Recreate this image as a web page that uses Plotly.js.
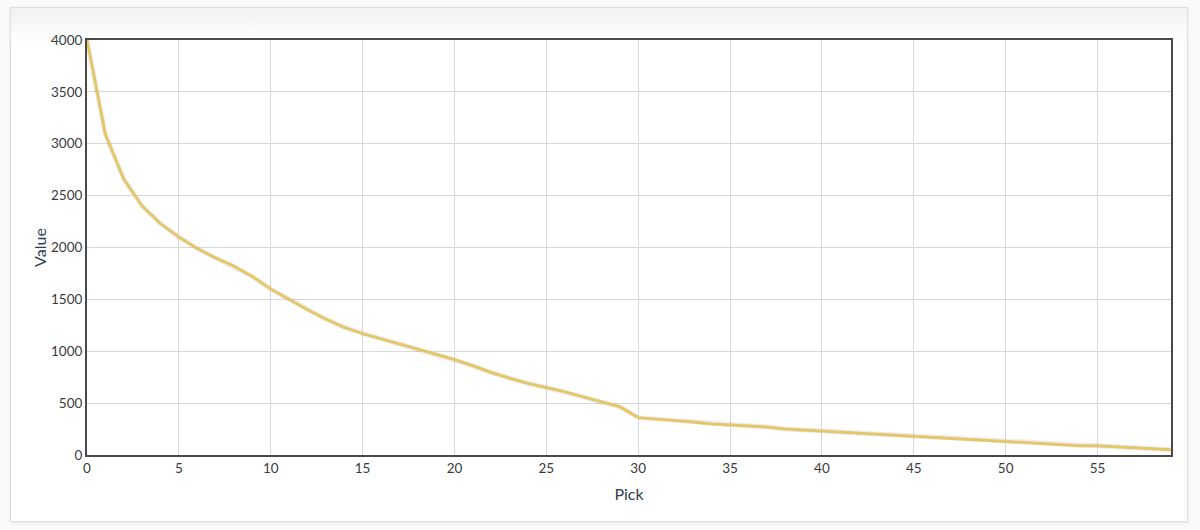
<!DOCTYPE html>
<html>
<head>
<meta charset="utf-8">
<script src="https://cdn.plot.ly/plotly-3.0.1.min.js"></script>
<style>
  html, body { margin: 0; padding: 0; background: #f7f7f7; }
  #wrap { position: relative; width: 1200px; height: 530px; overflow: hidden; background: #fafafa; }
  #card { position: absolute; left: 10px; top: 7px; width: 1176px; height: 513px;
          border: 1px solid #dedede; box-shadow: 0 1px 3px rgba(0,0,0,0.08);
          background: linear-gradient(to bottom, #f2f2f2 0px, #ffffff 36px, #ffffff 100%); }
  #chart { position: absolute; left: 0; top: 0; width: 1200px; height: 530px; }
</style>
</head>
<body>
<div id="wrap">
  <div id="card"></div>
  <div id="chart"></div>
</div>
<script>
const picks = [];
for (let i = 0; i < 60; i++) picks.push(i);

const values = [
  4000, 3090, 2660, 2400, 2230, 2100, 1990, 1900, 1820, 1720,
  1600, 1500, 1400, 1310, 1230, 1170, 1120, 1070, 1020, 970,
  920, 860, 795, 740, 690, 650, 610, 560, 510, 465,
  360, 348, 330, 318, 300, 290, 280, 270, 250, 240,
  230, 222, 212, 202, 192, 182, 172, 160, 150, 140,
  130, 120, 110, 100, 90, 90, 80, 70, 60, 50
];

const xTicks = [0, 5, 10, 15, 20, 25, 30, 35, 40, 45, 50, 55];
const yTicks = [0, 500, 1000, 1500, 2000, 2500, 3000, 3500, 4000];

const shadow = {
  x: picks, y: values, type: 'scatter', mode: 'lines',
  line: { color: 'rgba(0,0,0,0.07)', width: 5 },
  hoverinfo: 'skip', showlegend: false
};
const main = {
  x: picks, y: values, type: 'scatter', mode: 'lines',
  line: { color: '#e5c76b', width: 3 },
  showlegend: false
};

const layout = {
  width: 1200, height: 530,
  margin: { l: 87, r: 29, t: 40, b: 75 },
  paper_bgcolor: 'rgba(0,0,0,0)',
  plot_bgcolor: '#ffffff',
  font: { family: 'Lato, "Open Sans", sans-serif', color: '#333333', size: 13 },
  xaxis: {
    range: [0, 59],
    tickvals: xTicks,
    ticktext: xTicks.map(String),
    showgrid: true, gridcolor: '#d8d8d8', gridwidth: 1,
    zeroline: false,
    showline: true, linecolor: '#4a4a4a', linewidth: 2, mirror: true,
    ticks: '', ticklen: 0,
    tickfont: { size: 13.5, color: '#3a3a3a' },
    title: { text: 'Pick', font: { size: 16, color: '#2c3e50' }, standoff: 14 }
  },
  yaxis: {
    range: [0, 4000],
    tickvals: yTicks,
    ticktext: yTicks.map(String),
    showgrid: true, gridcolor: '#d8d8d8', gridwidth: 1,
    zeroline: false,
    showline: true, linecolor: '#4a4a4a', linewidth: 2, mirror: true,
    ticks: '', ticklen: 0,
    tickfont: { size: 13.5, color: '#3a3a3a' },
    title: { text: 'Value', font: { size: 16, color: '#2c3e50' }, standoff: 0 }
  }
};

Plotly.newPlot('chart', [shadow, main], layout, { displayModeBar: false, staticPlot: true });
</script>
</body>
</html>
